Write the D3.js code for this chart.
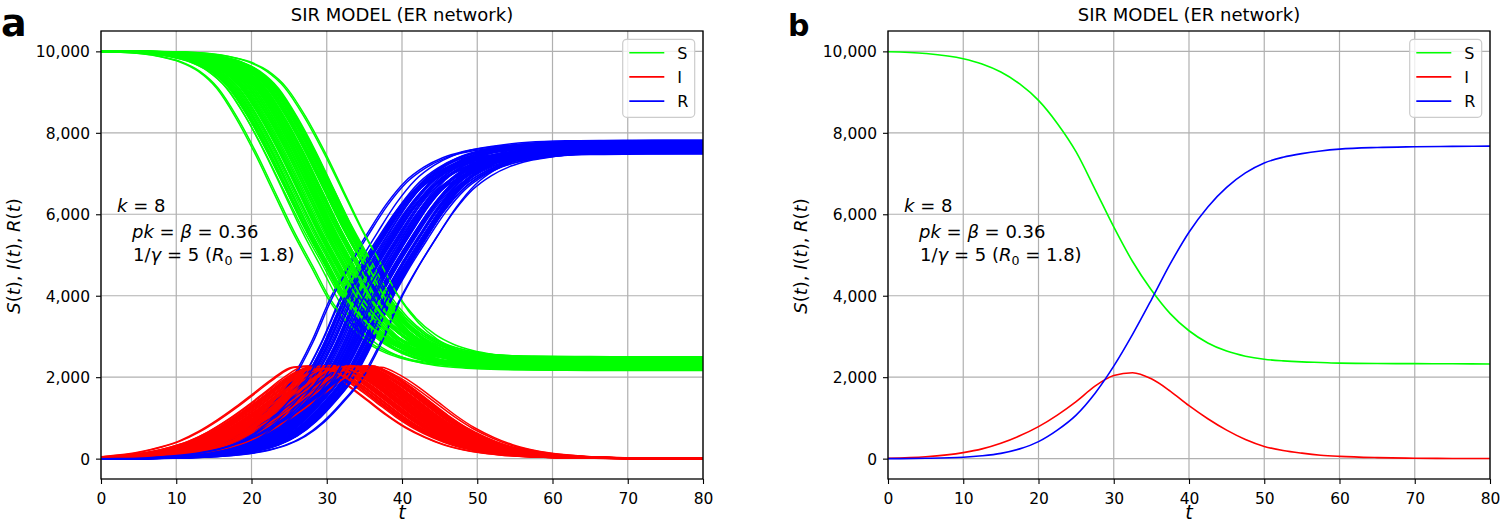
<!DOCTYPE html>
<html>
<head>
<meta charset="utf-8">
<script src="https://d3js.org/d3.v7.min.js"></script>
<style>
  body { margin: 0; background: #fff; }
  text { font-family: "DejaVu Sans", sans-serif; fill: #000; }
  .letter { font-family: "DejaVu Sans", sans-serif; font-weight: bold; }
  .tick text { font-family: "DejaVu Sans", sans-serif; font-size: 15.5px; }
  .tick line { stroke: #000; stroke-width: 1.1; }
</style>
</head>
<body>
<svg id="fig" width="1502" height="528"></svg>
<script>
// time grid shared by all curves (days)
var tGrid = [0, 5, 10, 12.5, 15, 17.5, 20, 22.5, 25, 27.5, 30, 32.5, 35, 37.5, 40, 42.5, 45, 47.5, 50, 52.5, 55, 57.5, 60, 65, 70, 75, 80]

// panel b: mean-field curves
var sMean = [9990, 9947, 9819, 9690, 9492, 9200, 8796, 8230, 7531, 6620, 5690, 4840, 4140, 3560, 3140, 2840, 2640, 2515, 2440, 2400, 2375, 2360, 2344, 2335, 2333, 2328, 2324]
var iMean = [10, 45, 147, 240, 378, 560, 786, 1070, 1400, 1780, 2040, 2110, 1960, 1660, 1300, 980, 700, 470, 300, 200, 135, 85, 56, 25, 10, 4, 2]
var rMean = [0, 8, 34, 70, 130, 240, 418, 700, 1069, 1600, 2270, 3050, 3900, 4780, 5560, 6180, 6660, 7015, 7260, 7400, 7490, 7555, 7600, 7640, 7657, 7668, 7674]

// panel a: a central simulation run
var sRun = [10000, 9990, 9940, 9870, 9750, 9520, 9100, 8400, 7550, 6600, 5650, 4800, 3950, 3350, 2950, 2700, 2550, 2460, 2410, 2380, 2360, 2350, 2345, 2338, 2335, 2335, 2335]
var iRun = [10, 50, 170, 280, 430, 650, 930, 1250, 1600, 1950, 2210, 2240, 2050, 1750, 1400, 1050, 750, 520, 340, 220, 140, 90, 55, 20, 8, 3, 1]
var rRun = [0, 10, 40, 70, 120, 200, 330, 550, 900, 1380, 1950, 2800, 3850, 4700, 5450, 6150, 6700, 7050, 7280, 7420, 7500, 7560, 7600, 7635, 7645, 7648, 7650]

// panel a: how far each run is ahead/behind (days) and how much bigger/smaller its outbreak is
var runShift = [-4.6, 1.2, -0.8, 2.9, -2.1, 0.3, 3.4, -1.5, 0.9, -3.1,
                2.2, -0.2, 1.7, -2.7, 3.1, -1.1, 0.6, 2.5, -3.4, 1.0,
                -0.5, 3.6, -1.9, 0.1, 2.0, -2.4, 1.4, -0.9, 2.7, -1.3,
                4.4, 0.4, -2.9, 1.9, -0.3, 3.2, -1.7, 0.8, 2.4, -3.2,
                1.5, -0.6, 2.8, -2.2, 0.0, 3.0, -1.0, 1.1, -4.4, 2.1,
                -2.6, 0.5, 3.5, -1.4, 1.6, -0.1, 2.6, -3.0, 0.7, 1.3,
                -2.0, 3.3, -0.7, 2.3, -1.6, 0.2, 4.7, -2.5, 1.8, -1.2,
                2.9, -0.4, 1.2, -2.8, 0.9]
var runSize = [0.015, -0.010, 0.004, -0.018, 0.020, -0.004, 0.011, -0.015, 0.007, -0.021,
               0.002, 0.017, -0.008, 0.013, -0.012, 0.019, -0.002, 0.009, -0.016, 0.006,
               -0.019, 0.014, -0.006, 0.021, -0.013, 0.003, -0.009, 0.016, -0.001, 0.010,
               -0.014, 0.018, -0.005, 0.008, -0.020, 0.012, -0.003, 0.005, -0.017, 0.022,
               -0.007, 0.001, -0.011, 0.015, -0.022, 0.004, 0.019, -0.010, 0.012, -0.015,
               0.007, -0.004, 0.017, -0.018, 0.002, -0.012, 0.010, -0.008, 0.020, -0.001,
               0.006, -0.016, 0.013, -0.006, 0.021, -0.019, 0.003, -0.009, 0.014, -0.013,
               0.008, -0.002, 0.016, -0.014, 0.011]

var population = 10000
var xTicks = [0, 10, 20, 30, 40, 50, 60, 70, 80]
var yTicks = [0, 2000, 4000, 6000, 8000, 10000]
var seriesNames = ["S", "I", "R"]
var seriesColors = ["#00ff00", "#ff0000", "#0000ff"]
var title = "SIR MODEL (ER network)"

var svg = d3.select("#fig")
var plotTop = 31, plotBottom = 479, plotW = 602

function mathText(g, x, y, parts, size) {
    // parts: [text, italic?, sub/up]
    var t = g.append("text").attr("x", x).attr("y", y).style("font-size", size + "px")
    parts.forEach(function(p) {
        var s = t.append("tspan").text(p[0])
        if (p[1]) s.style("font-style", "italic")
        if (p[2] == "sub") s.attr("dy", 4).style("font-size", (size * 0.7) + "px")
        if (p[2] == "up") s.attr("dy", -4)
    })
    return t
}

function panel(left, letter, letterSize, drawCurves) {
    var g = svg.append("g")
    var x = d3.scaleLinear().domain([0, 80]).range([left, left + plotW])
    var y = d3.scaleLinear().domain([-500, 10500]).range([plotBottom, plotTop])
    var clipId = "clip-" + letter

    g.append("clipPath").attr("id", clipId).append("rect")
        .attr("x", left).attr("y", plotTop).attr("width", plotW).attr("height", plotBottom - plotTop)

    // grid
    g.append("g").selectAll("line").data(xTicks).join("line")
        .attr("x1", d => x(d)).attr("x2", d => x(d)).attr("y1", plotTop).attr("y2", plotBottom)
        .attr("stroke", "#b0b0b0").attr("stroke-width", 1.2)
    g.append("g").selectAll("line").data(yTicks).join("line")
        .attr("x1", left).attr("x2", left + plotW).attr("y1", d => y(d)).attr("y2", d => y(d))
        .attr("stroke", "#b0b0b0").attr("stroke-width", 1.2)

    var line = d3.line().x(d => x(d[0])).y(d => y(d[1])).curve(d3.curveMonotoneX)
    var curves = g.append("g").attr("clip-path", "url(#" + clipId + ")")
    drawCurves(curves, line)

    // axes
    var xAxis = g.append("g").attr("transform", "translate(0," + plotBottom + ")")
        .call(d3.axisBottom(x).tickValues(xTicks).tickSize(5).tickPadding(8).tickFormat(d3.format("d")))
    var yAxis = g.append("g").attr("transform", "translate(" + left + ",0)")
        .call(d3.axisLeft(y).tickValues(yTicks).tickSize(5).tickPadding(6).tickFormat(d3.format(",")))
    xAxis.select(".domain").remove()
    yAxis.select(".domain").remove()
    xAxis.selectAll(".tick text").attr("dy", "0.78em")
    yAxis.selectAll(".tick text").attr("dy", "0.36em")

    g.append("rect").attr("x", left).attr("y", plotTop).attr("width", plotW).attr("height", plotBottom - plotTop)
        .attr("fill", "none").attr("stroke", "#000").attr("stroke-width", 1.3)

    // title, labels
    g.append("text").attr("x", left + plotW / 2).attr("y", 21).attr("text-anchor", "middle")
        .style("font-size", "18px").text(title)
    g.append("text").attr("class", "letter").attr("x", left - 100).attr("y", 36)
        .style("font-size", letterSize + "px").text(letter)

    var xl = mathText(g, left + plotW / 2, 519, [["t", true]], 19)
    xl.attr("text-anchor", "middle")

    var yl = mathText(g, 0, 0, [["S", true], ["("], ["t", true], ["), "], ["I", true], ["("], ["t", true], ["), "],
        ["R", true], ["("], ["t", true], [")"]], 18)
    yl.attr("text-anchor", "middle").attr("transform", "translate(" + (left - 81) + ",256) rotate(-90)")

    mathText(g, left + 16, 212, [["k", true], [" = 8"]], 18)
    mathText(g, left + 31, 238, [["pk", true], [" = "], ["β", true], [" = 0.36"]], 18)
    mathText(g, left + 32, 261, [["1/"], ["γ", true], [" = 5 ("], ["R", true], ["0", false, "sub"],
        [" = 1.8)", false, "up"]], 18)

    // legend
    var lx = left + plotW - 80.3, ly = 39.3
    var leg = g.append("g")
    leg.append("rect").attr("x", lx).attr("y", ly).attr("width", 72).attr("height", 78).attr("rx", 4)
        .attr("fill", "#fff").attr("fill-opacity", 0.8).attr("stroke", "#cccccc").attr("stroke-width", 1.2)
    seriesNames.forEach(function(n, i) {
        var yy = ly + 13.4 + i * 24.2
        leg.append("line").attr("x1", lx + 6.6).attr("x2", lx + 41.6).attr("y1", yy).attr("y2", yy)
            .attr("stroke", seriesColors[i]).attr("stroke-width", 1.6)
        leg.append("text").attr("x", lx + 54.5).attr("y", yy + 6).style("font-size", "16px").text(n)
    })
}

// panel a: one group per run, drawn S, I, R in that order
panel(101, "a", 38, function(g, line) {
    runShift.forEach(function(shift, k) {
        var f = 1 + runSize[k]
        var vals = [
            sRun.map(v => population - (population - v) * f),
            iRun.map(v => v * f),
            rRun.map(v => v * f)
        ]
        vals.forEach(function(v, si) {
            var pts = tGrid.map((t, j) => [t + shift, v[j]])
            if (shift > 0) pts.unshift([0, v[0]])
            if (shift < 0) pts.push([80, v[v.length - 1]])
            g.append("path").attr("d", line(pts)).attr("fill", "none")
                .attr("stroke", seriesColors[si]).attr("stroke-width", 1.5)
        })
    })
})

// panel b: mean curves
panel(888, "b", 30, function(g, line) {
    [sMean, iMean, rMean].forEach(function(v, si) {
        g.append("path").attr("d", line(tGrid.map((t, j) => [t, v[j]]))).attr("fill", "none")
            .attr("stroke", seriesColors[si]).attr("stroke-width", 1.6)
    })
})
</script>
</body>
</html>
